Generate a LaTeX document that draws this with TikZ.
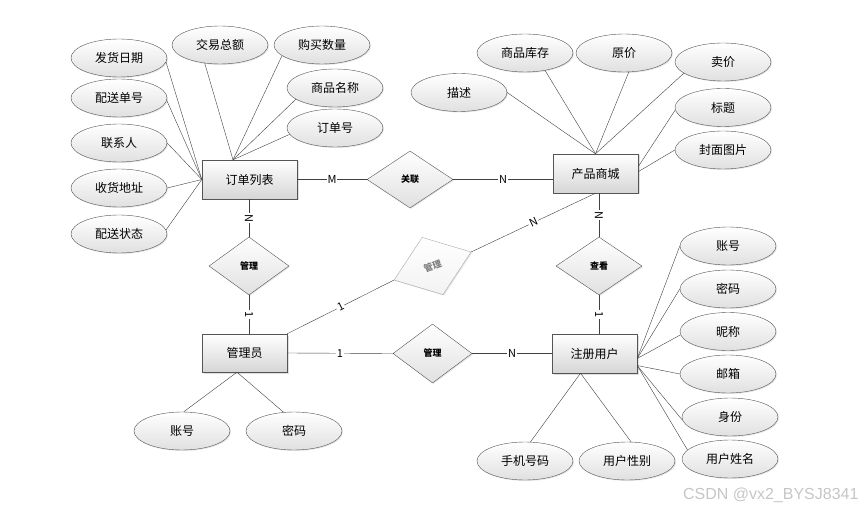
\documentclass[tikz,border=0pt]{standalone}
\usepackage{fontspec}
\setmainfont{Noto Sans CJK SC}
\newfontfamily\wmfont{Liberation Sans}
\usetikzlibrary{shapes.geometric,shadows}
\definecolor{erline}{HTML}{404040}
\definecolor{erborder}{HTML}{555555}
\definecolor{erfill}{HTML}{D6D6D6}
\definecolor{ghost}{HTML}{A8A8A8}
\begin{document}
\begin{tikzpicture}[x=1pt,y=-1pt,
    entity/.style={rectangle,draw=erborder,top color=white,bottom color=erfill,
      minimum width=85pt,minimum height=39pt,inner sep=0pt,
      font=\fontsize{12}{14}\selectfont,
      drop shadow={opacity=0.25,shadow xshift=1.5pt,shadow yshift=-1.5pt}},
    attrib/.style={ellipse,draw=erborder,top color=white,bottom color=erfill!75,
      minimum width=96pt,minimum height=38pt,inner sep=0pt,
      font=\fontsize{12}{14}\selectfont,
      drop shadow={opacity=0.2,shadow xshift=1pt,shadow yshift=-1pt}},
    relation/.style={diamond,draw=erborder,top color=white,bottom color=erfill!75,
      minimum width=84pt,minimum height=58pt,inner sep=0pt,
      font=\fontsize{9}{11}\selectfont\bfseries,
      drop shadow={opacity=0.2,shadow xshift=1pt,shadow yshift=-1pt}},
    conn/.style={draw=erline},
    card/.style={fill=white,inner sep=1pt,midway,sloped,
      font=\fontsize{11}{12}\selectfont}]
  \useasboundingbox (0,0) rectangle (866,510);

  % entities
  \node[entity,minimum width=95pt] (ord) at (249.5,179.5) {订单列表};
  \node[entity] (prod) at (595.5,173.5) {产品商城};
  \node[entity,minimum height=38pt] (adm) at (244.5,353) {管理员};
  \node[entity] (usr) at (594.5,353.5) {注册用户};

  % relations
  \node[relation,minimum width=86pt,minimum height=57pt] (rel) at (410,179.5) {关联};
  \node[relation,minimum width=80pt] (mgA) at (249,266) {管理};
  \node[relation,draw=ghost,text=gray,bottom color=erfill!30,rotate=20,
    minimum width=82pt,minimum height=61pt] (mgB) at (432.6,266) {管理};
  \node[relation,minimum width=79pt,minimum height=59pt] (mgC) at (432.5,353.5) {管理};
  \node[relation,minimum width=86pt] (look) at (599,266) {查看};

  % attributes of 订单列表
  \node[attrib] (fhrq) at (119,58) {发货日期};
  \node[attrib] (psdh) at (119,98) {配送单号};
  \node[attrib] (lxr) at (119,143) {联系人};
  \node[attrib] (shdz) at (119,188) {收货地址};
  \node[attrib] (pszt) at (119,234) {配送状态};
  \node[attrib] (jyze) at (220,45) {交易总额};
  \node[attrib] (gmsl) at (322,45) {购买数量};
  \node[attrib] (spmc) at (335,88) {商品名称};
  \node[attrib] (ddh) at (335,128) {订单号};

  % attributes of 产品商城
  \node[attrib] (ms) at (459,92.5) {描述};
  \node[attrib] (spkc) at (525,53) {商品库存};
  \node[attrib] (yj) at (624,53) {原价};
  \node[attrib] (mj) at (723,62) {卖价};
  \node[attrib] (bt) at (723,107.5) {标题};
  \node[attrib] (fmtp) at (723,150) {封面图片};

  % attributes of 管理员
  \node[attrib] (azh) at (182,431) {账号};
  \node[attrib] (amm) at (294,431) {密码};

  % attributes of 注册用户
  \node[attrib] (uzh) at (728,246) {账号};
  \node[attrib] (umm) at (728,289) {密码};
  \node[attrib] (unc) at (728,331.5) {昵称};
  \node[attrib] (uyx) at (728,374) {邮箱};
  \node[attrib] (usf) at (730,417) {身份};
  \node[attrib] (uxm) at (730,459) {用户姓名};
  \node[attrib] (usj) at (525,461) {手机号码};
  \node[attrib] (uxb) at (627,461) {用户性别};

  % where the attribute lines meet the boxes
  \coordinate (ordT) at ([xshift=-16.5pt]ord.north);
  \coordinate (ordL) at (ord.west);
  \coordinate (prodR1) at ([yshift=6.8pt]prod.east);
  \coordinate (prodR2) at ([yshift=1.8pt]prod.east);
  \coordinate (admB) at ([xshift=-7.5pt]adm.south);
  \coordinate (usrR1) at ([yshift=-5pt]usr.east);
  \coordinate (usrR2) at ([yshift=-12pt]usr.east);
  \coordinate (usrB) at ([xshift=-14pt]usr.south);

  % attribute lines
  \draw[conn] (fhrq.-5) -- (ordL);
  \draw[conn] (psdh.-3) -- (ordL);
  \draw[conn] (lxr.east) -- (ordL);
  \draw[conn] (shdz.east) -- (ordL);
  \draw[conn] (pszt.5) -- (ordL);
  \draw[conn] (jyze.-130) -- (ordT);
  \draw[conn] (gmsl.-165) -- (ordT);
  \draw[conn] (spmc.-164) -- (ordT);
  \draw[conn] (ddh.-172) -- (ordT);
  \draw[conn] (ms.east) -- (prod.north);
  \draw[conn] (spkc.-41) -- (prod.north);
  \draw[conn] (yj.-76) -- (prod.north);
  \draw[conn] (mj.-164) -- (prod.north);
  \draw[conn] (bt.-177) -- (prodR1);
  \draw[conn] (fmtp.west) -- (prodR2);
  \draw[conn] (azh.85) -- (admB);
  \draw[conn] (amm.119) -- (admB);
  \draw[conn] (uzh.west) -- (usrR1);
  \draw[conn] (umm.west) -- (usrR1);
  \draw[conn] (unc.-176) -- (usrR1);
  \draw[conn] (uyx.west) -- (usrR2);
  \draw[conn] (usf.-176) -- (usrR2);
  \draw[conn] (uxm.168) -- (usrR2);
  \draw[conn] (usj.74) -- (usrB);
  \draw[conn] (uxb.78) -- (usrB);

  % relation lines with cardinalities
  \draw[conn] (ord.east) -- (rel.west) node[card] {M};
  \draw[conn] (rel.east) -- (rel.east -| prod.west) node[card] {N};
  \draw[conn] (mgA.north |- ord.south) -- (mgA.north) node[card] {N};
  \draw[conn] (mgA.south) -- (mgA.south |- adm.north) node[card] {1};
  \draw[conn] (adm.east) -- (mgC.west) node[card] {1};
  \draw[conn] (mgC.east) -- (usr.west) node[card] {N};
  \draw[conn] (look.north |- prod.south) -- (look.north) node[card] {N};
  \draw[conn] (look.south) -- (look.south |- usr.north) node[card] {1};
  \draw[conn] (adm.north east) -- (mgB.west) node[card] {1};
  \draw[conn] (mgB.east) -- (prod.south) node[card] {N};

  % watermark
  \node[anchor=base east,text=gray!45,font=\wmfont\fontsize{16}{18}\selectfont]
    (wm) at (862,499) {CSDN @vx2\_BYSJ8341};
\end{tikzpicture}
\end{document}
